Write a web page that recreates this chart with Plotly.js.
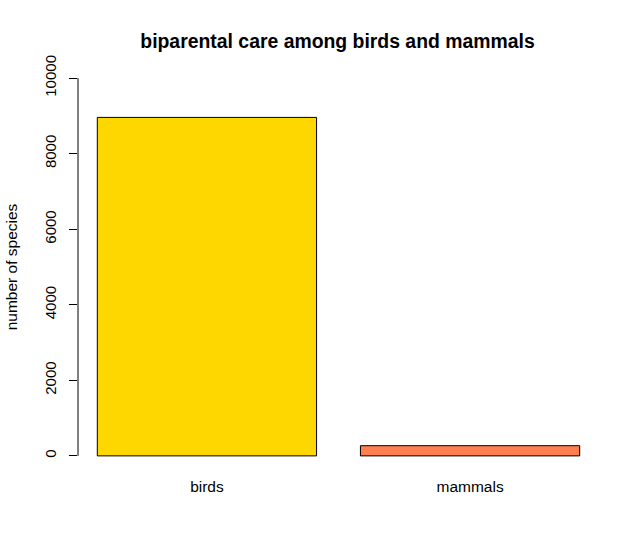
<!DOCTYPE html>
<html>
<head>
<meta charset="utf-8">
<script src="https://cdn.plot.ly/plotly-3.0.1.min.js"></script>
<style>
  body { margin: 0; background: #fff; }
  #chart { width: 638px; height: 554px; }
</style>
</head>
<body>
<div id="chart"></div>
<script>
// values
const groups = ['birds', 'mammals'];
const species = [8960, 270];
const barColors = ['#FFD700', '#FF7F50'];
const yTicks = [0, 2000, 4000, 6000, 8000, 10000];

// R barplot style positions: width 1, space 0.2
const xPos = groups.map((g, i) => 0.7 + i * 1.2);

const trace = {
  x: xPos,
  y: species,
  type: 'bar',
  width: 1,
  marker: {
    color: barColors,
    line: { color: '#000', width: 1 },
  },
  hoverinfo: 'skip',
};

const fam = 'Liberation Sans, Arial, sans-serif';

const layout = {
  width: 638,
  height: 554,
  margin: { l: 78, r: 39, t: 63, b: 83 },
  paper_bgcolor: '#fff',
  plot_bgcolor: '#fff',
  font: { family: fam, size: 15, color: '#000' },
  showlegend: false,
  title: {
    text: '<b>biparental care among birds and mammals</b>',
    font: { family: fam, size: 19.4, color: '#000' },
    x: 0.529,
    xanchor: 'center',
    y: 0.926,
    yanchor: 'middle',
  },
  xaxis: {
    range: [0.112, 2.488],
    tickvals: xPos,
    ticktext: groups,
    tickfont: { family: fam, size: 15.5, color: '#000' },
    ticks: '',
    showgrid: false,
    zeroline: false,
    showline: false,
    ticklabelstandoff: 4,
    fixedrange: true,
  },
  yaxis: {
    range: [-400, 10400],
    tickvals: yTicks,
    ticktext: yTicks.map(String),
    tickangle: -90,
    tickfont: { family: fam, size: 15, color: '#000' },
    ticks: 'outside',
    ticklen: 8,
    tickcolor: '#000',
    ticklabelstandoff: 7,
    showgrid: false,
    zeroline: false,
    showline: false,
    title: {
      text: 'number of species',
      font: { family: fam, size: 15.5, color: '#000' },
      standoff: 20,
    },
    fixedrange: true,
  },
  shapes: [{
    type: 'line',
    xref: 'paper',
    yref: 'y',
    x0: 0, x1: 0,
    y0: 0, y1: 10000,
    line: { color: '#000', width: 1 },
  }],
};

Plotly.newPlot('chart', [trace], layout, { displayModeBar: false, staticPlot: true });
</script>
</body>
</html>
